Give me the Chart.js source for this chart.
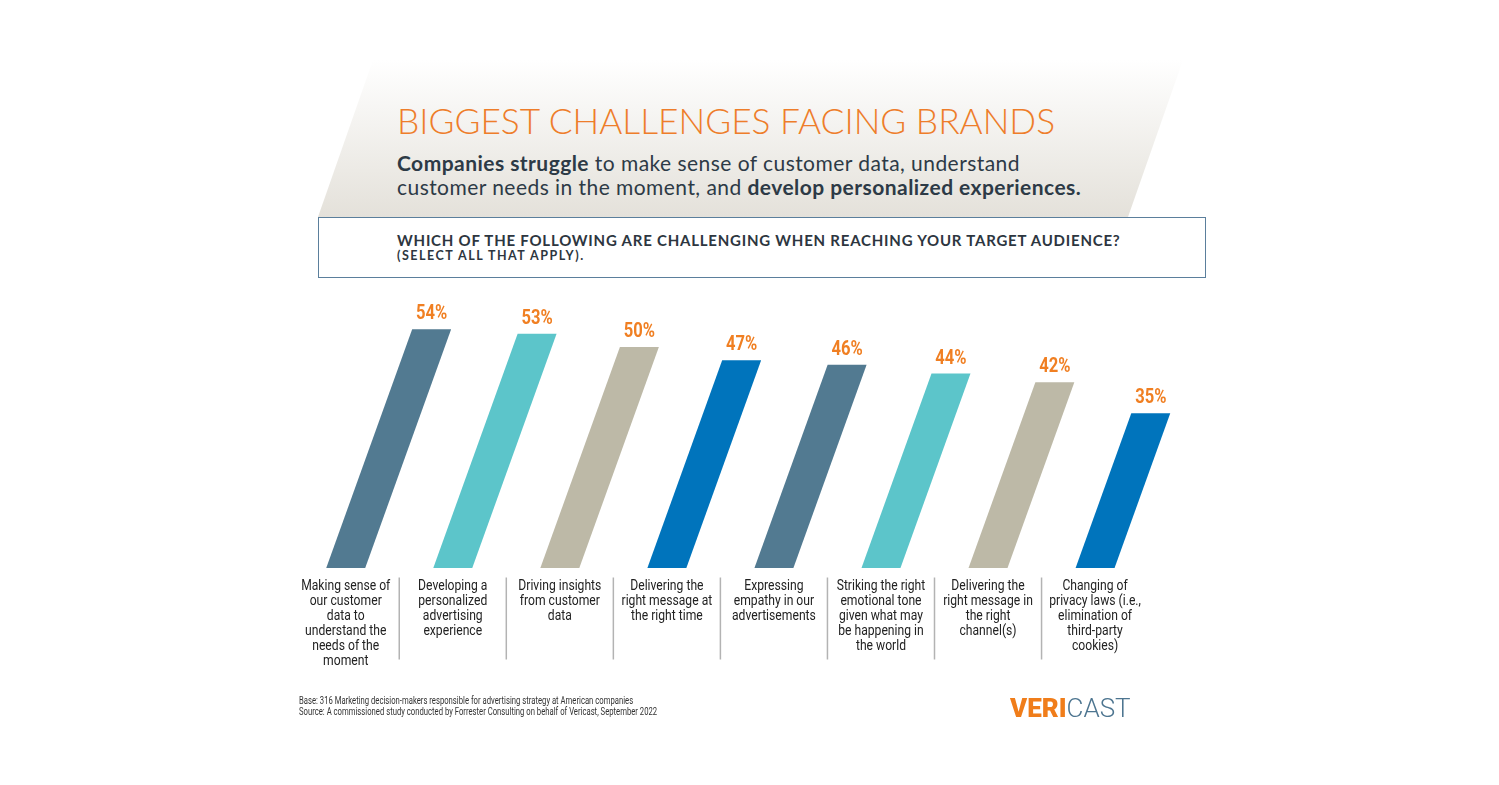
<!DOCTYPE html>
<html>
<head>
<meta charset="utf-8">
<script src="https://cdn.jsdelivr.net/npm/chart.js@4.4.0/dist/chart.umd.min.js"></script>
<style>
  body { margin: 0; background: #fff; width: 1499px; height: 785px; position: relative; overflow: hidden; font-family: Lato, sans-serif; }
  #band { position: absolute; left: 318px; top: 60px; width: 865px; height: 157px;
          background: linear-gradient(#ffffff, #e4e1da);
          clip-path: polygon(55px 0, 865px 0, 810px 157px, 0 157px); }
  #title { position: absolute; left: 397px; top: 99px; font-size: 35.3px; font-weight: 300; color: #ee7d2a; line-height: 44px; white-space: nowrap; }
  #sub { position: absolute; left: 397px; top: 151px; font-size: 21px; letter-spacing: 0.45px; color: #2d3a46; line-height: 24px; white-space: nowrap; }
  #sub b { font-weight: 700; }
  #box { position: absolute; left: 318px; top: 217px; width: 886px; height: 59px; border: 1.5px solid #5b7f9c; background: #fff; }
  #q1 { position: absolute; left: 397px; top: 231px; font-size: 15px; letter-spacing: 0.78px; font-weight: 700; color: #2d3640; white-space: nowrap; }
  #q2 { position: absolute; left: 397px; top: 248px; font-size: 12.5px; letter-spacing: 1.5px; font-weight: 700; color: #2d3640; white-space: nowrap; }
  #foot { position: absolute; left: 299px; top: 695px; font-family: Roboto, sans-serif; font-size: 10px; line-height: 11px; color: #333;
          transform: scaleX(0.77); transform-origin: left top; white-space: nowrap; }
  #logo { position: absolute; left: 1010px; top: 694px; font-family: Roboto, sans-serif; font-size: 26px; line-height: 28px; white-space: nowrap; letter-spacing: 0px; }
  #logo .a { color: #f07d1a; font-weight: 900; }
  #logo .b { color: #4d7590; font-weight: 300; }
  canvas { position: absolute; left: 0; top: 0; }
</style>
</head>
<body>
<div id="band"></div>
<div id="title">BIGGEST CHALLENGES FACING BRANDS</div>
<div id="sub"><b>Companies struggle</b> to make sense of customer data, understand<br>customer needs in the moment, and <b>develop personalized experiences.</b></div>
<div id="box"></div>
<div id="q1">WHICH OF THE FOLLOWING ARE CHALLENGING WHEN REACHING YOUR TARGET AUDIENCE?</div>
<div id="q2">(SELECT ALL THAT APPLY).</div>
<canvas id="chart" width="1499" height="785"></canvas>
<div id="foot">Base: 316 Marketing decision-makers responsible for advertising strategy at American companies<br>Source: A commissioned study conducted by Forrester Consulting on behalf of Vericast, September 2022</div>
<div id="logo"><span class="a">VERI</span><span class="b">CAST</span></div>

<script>
const categories = [
  ['Making sense of', 'our customer', 'data to', 'understand the', 'needs of the', 'moment'],
  ['Developing a', 'personalized', 'advertising', 'experience'],
  ['Driving insights', 'from customer', 'data'],
  ['Delivering the', 'right message at', 'the right time'],
  ['Expressing', 'empathy in our', 'advertisements'],
  ['Striking the right', 'emotional tone', 'given what may', 'be happening in', 'the world'],
  ['Delivering the', 'right message in', 'the right', 'channel(s)'],
  ['Changing of', 'privacy laws (i.e.,', 'elimination of', 'third-party', 'cookies)']
]
const values = [54, 53, 50, 47, 46, 44, 42, 35]
const barColors = ['#527a91', '#5cc5ca', '#bdb9a7', '#0074bc', '#527a91', '#5cc5ca', '#bdb9a7', '#0074bc']

const SLANT = 0.36

// draws each bar as a slanted parallelogram, plus its value on top
const slantBars = {
  id: 'slantBars',
  beforeDatasetDraw(chart, args) {
    const ctx = chart.ctx
    args.meta.data.forEach((bar, i) => {
      const h = bar.base - bar.y
      const dx = h * SLANT
      const half = bar.width / 2
      ctx.fillStyle = barColors[i]
      ctx.beginPath()
      ctx.moveTo(bar.x - half, bar.base)
      ctx.lineTo(bar.x + half, bar.base)
      ctx.lineTo(bar.x + half + dx, bar.y)
      ctx.lineTo(bar.x - half + dx, bar.y)
      ctx.closePath()
      ctx.fill()

      ctx.save()
      ctx.translate(bar.x + dx, bar.y - 10)
      ctx.scale(0.85, 1)
      ctx.font = 'bold 19.5px Roboto'
      ctx.fillStyle = '#f07f22'
      ctx.textAlign = 'center'
      ctx.textBaseline = 'alphabetic'
      ctx.fillText(values[i] + '%', 0, 0)
      ctx.restore()
    })
    return false
  },
  afterDraw(chart) {
    const ctx = chart.ctx
    const xs = chart.scales.x
    const bottom = chart.chartArea.bottom
    const step = xs.width / categories.length
    ctx.save()
    categories.forEach((lines, i) => {
      const x = xs.getPixelForValue(i)
      lines.forEach((line, j) => {
        ctx.save()
        ctx.translate(x, bottom + 22 + j * 15)
        ctx.scale(0.81, 1)
        ctx.font = '15px Roboto'
        ctx.fillStyle = '#222'
        ctx.textAlign = 'center'
        ctx.fillText(line, 0, 0)
        ctx.restore()
      })
      if (i < categories.length - 1) {
        ctx.strokeStyle = '#b3b3b3'
        ctx.lineWidth = 1.5
        ctx.beginPath()
        ctx.moveTo(x + step / 2, bottom + 9.5)
        ctx.lineTo(x + step / 2, bottom + 91.5)
        ctx.stroke()
      }
    })
    ctx.restore()
  }
}

new Chart(document.getElementById('chart'), {
  type: 'bar',
  data: {
    labels: categories,
    datasets: [{ data: values, backgroundColor: barColors, barPercentage: 1, categoryPercentage: 0.364 }]
  },
  options: {
    responsive: false,
    animation: false,
    layout: { padding: { left: 292.2, right: 350.4, top: 302.8, bottom: 217 } },
    plugins: { legend: { display: false }, tooltip: { enabled: false } },
    scales: {
      x: { display: false },
      y: { display: false, min: 0, max: 60 }
    }
  },
  plugins: [slantBars]
})
</script>
</body>
</html>
